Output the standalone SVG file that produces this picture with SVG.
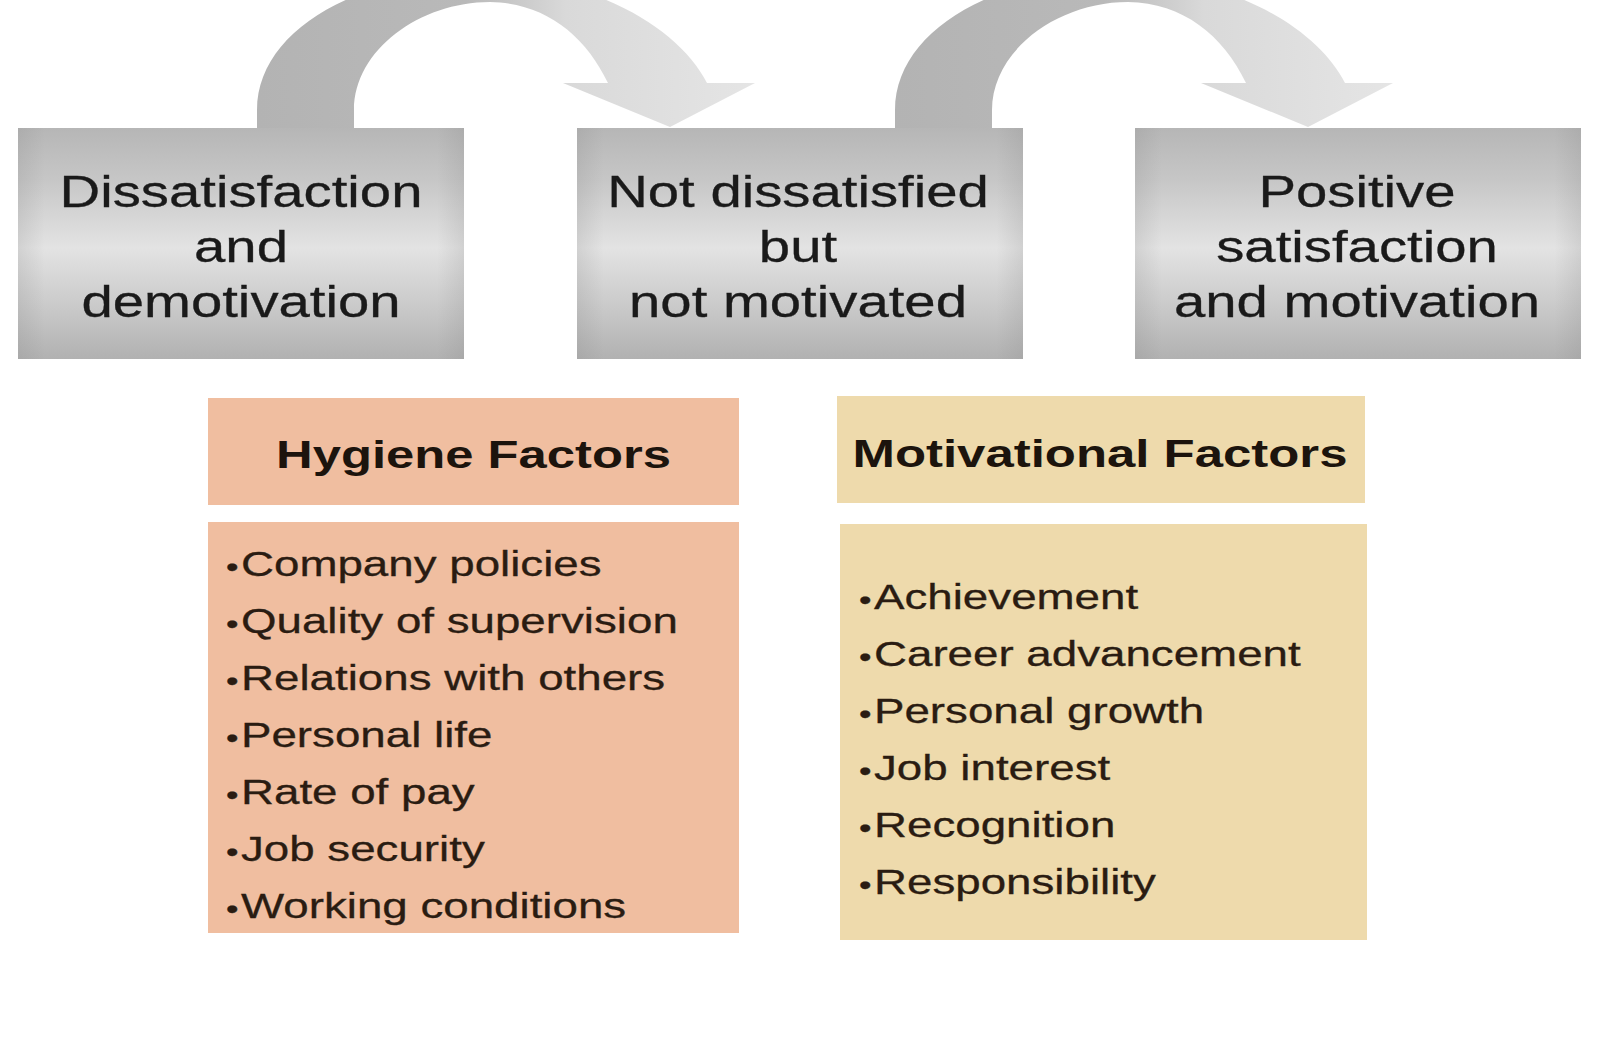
<svg xmlns="http://www.w3.org/2000/svg" width="1623" height="1063" viewBox="0 0 1623 1063">
  <defs>
    <linearGradient id="boxGrad" x1="0" y1="0" x2="0" y2="1">
      <stop offset="0" stop-color="#b6b6b6"/>
      <stop offset="0.22" stop-color="#c6c6c6"/>
      <stop offset="0.52" stop-color="#e3e3e3"/>
      <stop offset="0.78" stop-color="#c9c9c9"/>
      <stop offset="1" stop-color="#b1b1b1"/>
    </linearGradient>
    <linearGradient id="edgeGrad" x1="0" y1="0" x2="1" y2="0">
      <stop offset="0" stop-color="#808080" stop-opacity="0.18"/>
      <stop offset="0.06" stop-color="#808080" stop-opacity="0"/>
      <stop offset="0.94" stop-color="#808080" stop-opacity="0"/>
      <stop offset="1" stop-color="#808080" stop-opacity="0.18"/>
    </linearGradient>
    <linearGradient id="arrowGrad" x1="0" y1="0" x2="1" y2="0">
      <stop offset="0" stop-color="#b3b3b3"/>
      <stop offset="0.42" stop-color="#b9b9b9"/>
      <stop offset="0.62" stop-color="#d9d9d9"/>
      <stop offset="1" stop-color="#e5e5e5"/>
    </linearGradient>
  </defs>
  <style>
    .top { font-family: "Liberation Sans", Arial, sans-serif; font-size: 44px; fill: #1a1a1a; stroke: #1a1a1a; stroke-width: 0.3px; text-anchor: middle; }
    .hdr { font-family: "Liberation Sans", Arial, sans-serif; font-size: 38.5px; font-weight: bold; fill: #1c140d; text-anchor: middle; }
    .item { font-family: "Liberation Sans", Arial, sans-serif; font-size: 36px; fill: #2a1c12; stroke: #2a1c12; stroke-width: 0.3px; }
    .b { font-size: 28px; }
    .hyg { fill: #f0bea0; }
    .mot { fill: #eedaac; }
    .arrow { fill: url(#arrowGrad); }
  </style>
  <rect width="1623" height="1063" fill="#ffffff"/>

  <g id="connectors">
    <path class="arrow" d="M 257 140 L 257 110 C 257 30 360 -30 490 -25 C 600 -20 680 30 707 83 L 755 83 L 670 127 L 563 83 L 608 83 C 585 35 545 3 490 2 C 420 2 354 50 354 110 L 354 140 Z"/>
    <path class="arrow" transform="translate(638 0)" d="M 257 140 L 257 110 C 257 30 360 -30 490 -25 C 600 -20 680 30 707 83 L 755 83 L 670 127 L 563 83 L 608 83 C 585 35 545 3 490 2 C 420 2 354 50 354 110 L 354 140 Z"/>
  </g>

  <g id="node-dissatisfaction">
    <rect x="18" y="128" width="446" height="231" fill="url(#boxGrad)"/>
    <rect x="18" y="128" width="446" height="231" fill="url(#edgeGrad)"/>
    <text class="top" transform="translate(241 207) scale(1.28 1)">Dissatisfaction</text>
    <text class="top" transform="translate(241 262) scale(1.28 1)">and</text>
    <text class="top" transform="translate(241 317) scale(1.28 1)">demotivation</text>
  </g>

  <g id="node-not-dissatisfied">
    <rect x="577" y="128" width="446" height="231" fill="url(#boxGrad)"/>
    <rect x="577" y="128" width="446" height="231" fill="url(#edgeGrad)"/>
    <text class="top" transform="translate(798 207) scale(1.28 1)">Not dissatisfied</text>
    <text class="top" transform="translate(798 262) scale(1.28 1)">but</text>
    <text class="top" transform="translate(798 317) scale(1.28 1)">not motivated</text>
  </g>

  <g id="node-positive">
    <rect x="1135" y="128" width="446" height="231" fill="url(#boxGrad)"/>
    <rect x="1135" y="128" width="446" height="231" fill="url(#edgeGrad)"/>
    <text class="top" transform="translate(1357 207) scale(1.28 1)">Positive</text>
    <text class="top" transform="translate(1357 262) scale(1.28 1)">satisfaction</text>
    <text class="top" transform="translate(1357 317) scale(1.28 1)">and motivation</text>
  </g>

  <g id="node-hygiene-header">
    <rect class="hyg" x="208" y="398" width="531" height="107"/>
    <text class="hdr" x="473.5" y="468" textLength="395" lengthAdjust="spacingAndGlyphs">Hygiene Factors</text>
  </g>

  <g id="node-hygiene-list">
    <rect class="hyg" x="208" y="522" width="531" height="411"/>
    <text class="item" transform="translate(226 576) scale(1.27 1)"><tspan class="b">•</tspan><tspan dx="2">Company policies</tspan></text>
    <text class="item" transform="translate(226 633) scale(1.27 1)"><tspan class="b">•</tspan><tspan dx="2">Quality of supervision</tspan></text>
    <text class="item" transform="translate(226 690) scale(1.27 1)"><tspan class="b">•</tspan><tspan dx="2">Relations with others</tspan></text>
    <text class="item" transform="translate(226 747) scale(1.27 1)"><tspan class="b">•</tspan><tspan dx="2">Personal life</tspan></text>
    <text class="item" transform="translate(226 804) scale(1.27 1)"><tspan class="b">•</tspan><tspan dx="2">Rate of pay</tspan></text>
    <text class="item" transform="translate(226 861) scale(1.27 1)"><tspan class="b">•</tspan><tspan dx="2">Job security</tspan></text>
    <text class="item" transform="translate(226 918) scale(1.27 1)"><tspan class="b">•</tspan><tspan dx="2">Working conditions</tspan></text>
  </g>

  <g id="node-motivational-header">
    <rect class="mot" x="837" y="396" width="528" height="107"/>
    <text class="hdr" x="1100" y="467" textLength="495" lengthAdjust="spacingAndGlyphs">Motivational Factors</text>
  </g>

  <g id="node-motivational-list">
    <rect class="mot" x="840" y="524" width="527" height="416"/>
    <text class="item" transform="translate(859 609) scale(1.27 1)"><tspan class="b">•</tspan><tspan dx="2">Achievement</tspan></text>
    <text class="item" transform="translate(859 666) scale(1.27 1)"><tspan class="b">•</tspan><tspan dx="2">Career advancement</tspan></text>
    <text class="item" transform="translate(859 723) scale(1.27 1)"><tspan class="b">•</tspan><tspan dx="2">Personal growth</tspan></text>
    <text class="item" transform="translate(859 780) scale(1.27 1)"><tspan class="b">•</tspan><tspan dx="2">Job interest</tspan></text>
    <text class="item" transform="translate(859 837) scale(1.27 1)"><tspan class="b">•</tspan><tspan dx="2">Recognition</tspan></text>
    <text class="item" transform="translate(859 894) scale(1.27 1)"><tspan class="b">•</tspan><tspan dx="2">Responsibility</tspan></text>
  </g>
</svg>
